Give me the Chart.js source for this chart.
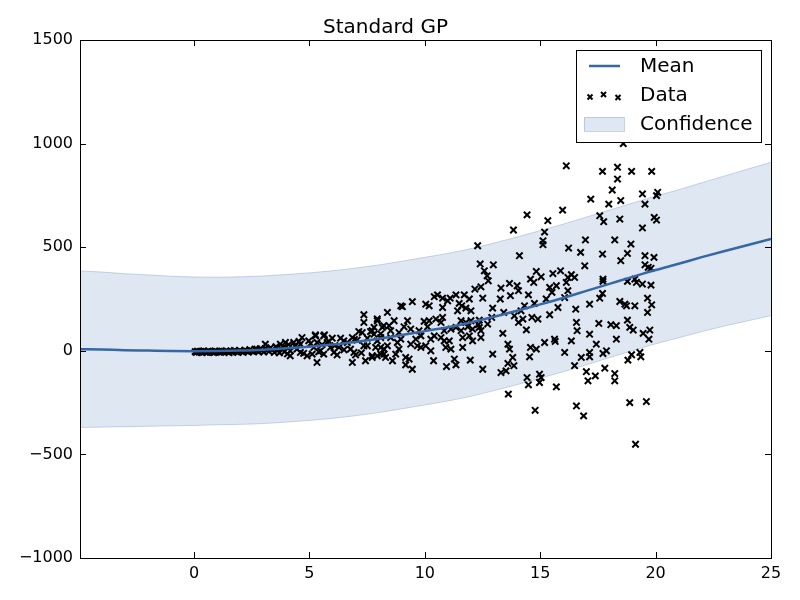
<!DOCTYPE html>
<html>
<head>
<meta charset="utf-8">
<script src="https://cdn.jsdelivr.net/npm/chart.js@4.4.1/dist/chart.umd.min.js"></script>
<style>
  html, body { margin: 0; padding: 0; background: #fff; }
  canvas { display: block; }
</style>
</head>
<body>
<canvas id="gpChart" width="800" height="600"></canvas>
<script>
// valores
const xGrid = [-5, -4, -3, -2, -1, 0, 1, 2, 3, 4, 5, 6, 7, 8, 9, 10, 11, 12, 13, 14, 15, 16, 17, 18, 19, 20, 21, 22, 23, 24, 25];
const meanVals = [8, 6, 3, 1, -1, -2, -1, 1, 5, 12, 20, 30, 43, 58, 76, 95, 114, 137, 164, 193, 224, 255, 289, 323, 357, 390, 420, 452, 482, 511, 540];
const upperVals = [386, 380, 372, 366, 360, 356, 355, 357, 361, 368, 376, 386, 399, 414, 432, 451, 470, 493, 520, 549, 580, 611, 645, 679, 713, 746, 777, 811, 844, 877, 910];
const lowerVals = [-370, -368, -366, -364, -362, -360, -357, -355, -351, -344, -336, -326, -313, -298, -280, -261, -242, -219, -192, -163, -132, -101, -67, -33, 1, 34, 63, 93, 120, 145, 170];

const xTickVals = [0, 5, 10, 15, 20, 25];
const yTickVals = [-1000, -500, 0, 500, 1000, 1500];

// observaciones [x, y]
const observed = [
  // banda densa cerca de cero
  [0.05,-4],[0.1,-8],[0.15,-2],[0.22,-6],[0.3,-3],[0.36,-9],[0.42,-1],[0.5,-5],[0.55,-7],[0.62,-2],
  [0.7,-6],[0.78,-4],[0.85,-9],[0.92,-1],[1.0,-5],[1.08,-3],[1.15,-8],[1.22,-2],[1.3,-6],[1.38,0],
  [1.45,-4],[1.52,-9],[1.6,-2],[1.68,-6],[1.75,2],[1.82,-4],[1.9,-8],[1.98,1],[2.05,-3],[2.12,-7],
  [2.2,3],[2.28,-2],[2.35,-6],[2.42,5],[2.5,-1],[2.58,-5],[2.65,8],[2.72,0],[2.8,-4],[2.88,10],
  [2.95,2],[3.02,-6],[3.1,12],[3.18,4],[3.25,-3],[3.32,15],[3.4,6],[3.48,-8],[3.55,20],[3.62,2],
  [3.7,-10],[3.78,10],[3.09,32],[2.72,8],
  // x entre 3.7 y 8
  [7.36,174],[7.36,137],[7.94,145],[8.38,185],[7.14,93],[7.65,93],[6.86,64],[6.35,61],[5.99,61],[5.62,72],
  [5.26,72],[4.68,64],[3.96,40],[4.32,40],[4.61,32],[4.97,48],[5.33,40],[5.77,40],[6.64,40],[7.07,52],
  [7.51,61],[8.09,64],[3.88,16],[4.46,8],[5.19,16],[5.48,0],[5.91,16],[6.28,16],[6.78,8],[7.36,24],
  [8.09,16],[8.23,-16],[7.94,-24],[4.9,-24],[5.33,-56],[6.86,-56],[7.43,-48],[7.72,-32],[5.62,-16],[6.06,-8],
  [6.93,-8],[4.17,0],[4.61,-8],[5.12,-16],[3.74,32],[8.16,113],[8.45,121],
  [3.92,-5],[4.05,-15],[4.1,30],[4.38,22],[4.55,45],[4.75,-12],[5.05,35],[5.4,-5],[5.55,30],[5.85,45],
  [6.1,25],[6.2,-20],[6.5,5],[6.95,55],[7.0,-20],[7.25,-10],
  [7.29,88],[7.72,97],[5.26,77],[5.65,77],[4.17,-24],[6.49,48],[7.51,24],
  // x entre 7.7 y 9
  [7.94,154],[8.22,121],[7.8,113],[8.67,145],[8.09,82],[8.52,64],[8.81,40],[8.38,24],[8.09,-16],[7.72,-24],
  [8.74,-16],[7.94,48],[8.23,8],[7.87,16],[8.52,97],[8.88,88],[7.8,80],[8.3,-32],[8.6,-48],[8.88,8],
  // x entre 9 y 16
  [13.84,583],[15.19,573],[15.12,531],[15.12,512],[15.33,628],[12.29,507],[14.1,459],[12.4,419],[12.97,415],[12.58,386],
  [12.7,362],[12.75,338],[12.43,309],[12.17,298],[12.51,254],[13.3,303],[13.67,325],[14.0,314],[14.06,290],[13.71,266],
  [13.27,250],[14.49,270],[14.58,346],[14.83,383],[15.04,357],[14.72,330],[15.55,373],[15.88,386],[15.7,314],[15.51,282],
  [15.26,250],[14.75,229],[14.32,217],[14.17,193],[14.64,161],[14.9,153],[15.41,174],[13.88,169],[14.06,137],[14.4,101],
  [13.38,84],[13.42,185],[12.94,206],[12.9,161],[12.72,129],[12.36,148],[12.36,113],[12.0,145],[11.78,137],[11.57,145],
  [12.0,193],[11.78,206],[11.42,193],[11.49,229],[11.93,250],[11.71,270],[11.6,217],[11.35,270],[11.1,254],[10.99,241],
  [10.77,209],[10.77,254],[10.55,270],[10.41,261],[10.19,217],[10.04,225],[9.46,237],[9.03,213],[10.77,161],[10.48,153],
  [10.7,137],[10.19,145],[9.97,142],[10.12,116],[9.25,145],[9.1,116],[9.39,105],[11.13,105],[11.35,113],[11.57,97],
  [12.07,105],[12.32,126],[12.43,97],[11.86,116],[10.41,72],[10.26,56],[9.83,72],[9.61,56],[9.68,24],[9.39,32],
  [8.96,56],[10.84,48],[11.06,48],[10.91,16],[11.13,8],[11.64,64],[11.93,72],[11.64,16],[12.07,48],[12.43,64],
  [12.94,-16],[13.6,32],[13.67,8],[13.81,-32],[13.6,-61],[13.86,-72],[13.3,-105],[13.52,-97],[14.58,16],[14.83,8],
  [14.54,-29],[15.19,40],[15.62,56],[12.51,-89],[11.97,-45],[11.28,-40],[11.35,-68],[10.94,-76],[10.38,-48],[9.17,-32],
  [9.32,-40],[9.17,-68],[9.46,-89],[15.04,-129],[14.97,-153],[14.49,-164],[15.7,-174],[13.62,-209],[14.78,-287],[8.96,217],
  [9.75,97],[10.04,24],[10.26,0],[10.7,64],[9.83,16],[10.84,97],[15.41,306],[15.77,209],[14.25,153],[14.43,656],
  [14.43,-129],[14.97,-113],[15.65,45],
  // x entre 16 y 17.2
  [16.13,893],[15.97,679],[16.96,535],[16.23,496],[16.75,475],[16.93,410],[16.2,354],[16.35,367],[16.49,354],[16.2,290],
  [16.54,201],[16.57,137],[16.6,97],[17.14,225],[17.14,80],[16.35,48],[16.06,-8],[16.57,-266],[16.88,-314],[17.0,-101],
  [17.07,-145],[16.78,-32],[16.49,-72],[17.14,-8],[17.19,732],[16.13,330],[16.06,257],
  // x entre 17.2 y 20
  [17.7,866],[18.35,886],[18.35,829],[18.96,866],[19.83,866],[18.12,776],[17.97,708],[18.49,725],[19.43,757],[20.09,765],
  [20.04,749],[19.54,708],[17.58,652],[17.75,623],[18.45,636],[19.94,644],[20.04,631],[19.43,593],[18.23,535],[18.93,515],
  [17.7,467],[18.78,470],[18.49,435],[19.54,459],[19.93,451],[19.54,415],[19.68,403],[19.8,398],[17.72,346],[17.72,335],
  [18.78,335],[19.1,346],[19.17,330],[19.43,322],[19.8,317],[17.7,277],[17.58,254],[19.65,254],[19.83,222],[19.65,185],
  [18.45,238],[18.67,225],[18.74,217],[19.1,217],[17.54,132],[18.06,126],[18.3,121],[18.78,148],[18.88,113],[19.03,100],
  [19.46,84],[19.75,100],[19.71,56],[18.3,56],[17.43,32],[17.87,0],[17.72,-13],[17.14,-29],[18.96,-19],[19.32,-8],
  [19.36,-29],[18.8,-45],[17.8,-84],[17.39,-121],[18.23,-110],[18.23,-145],[18.88,-250],[19.6,-245],[19.13,-451],[18.6,1000]
];

const FONT = 'DejaVu Sans';
const MEAN_COLOR = '#3767a6';
const BAND_FILL = 'rgba(176, 196, 222, 0.4)';
const BAND_EDGE = 'rgba(160, 182, 214, 0.6)';

function toXY(ys) {
  return xGrid.map((x, i) => ({ x: x, y: ys[i] }));
}

function fmtTick(v) {
  return v < 0 ? '\u2212' + Math.abs(v) : String(v);
}

function drawCross(ctx, x, y, h) {
  ctx.beginPath();
  ctx.moveTo(x - h, y - h); ctx.lineTo(x + h, y + h);
  ctx.moveTo(x + h, y - h); ctx.lineTo(x - h, y + h);
  ctx.stroke();
}

// marco, ticks hacia dentro y leyenda al estilo matplotlib
const marcoPlugin = {
  id: 'marco',
  afterDraw(chart) {
    const ctx = chart.ctx;
    const ca = chart.chartArea;
    const xs = chart.scales.x, ys = chart.scales.y;
    const left = Math.round(ca.left), right = Math.round(ca.right);
    const top = Math.round(ca.top), bottom = Math.round(ca.bottom);
    ctx.save();
    ctx.strokeStyle = '#000';
    ctx.lineWidth = 1;
    ctx.beginPath();
    xTickVals.forEach(v => {
      const px = Math.min(Math.round(xs.getPixelForValue(v)), right) + 0.5;
      ctx.moveTo(px, bottom); ctx.lineTo(px, bottom - 6);
      ctx.moveTo(px, top); ctx.lineTo(px, top + 6);
    });
    yTickVals.forEach(v => {
      const py = Math.min(Math.max(Math.round(ys.getPixelForValue(v)), top), bottom) + 0.5;
      ctx.moveTo(left, py); ctx.lineTo(left + 6, py);
      ctx.moveTo(right, py); ctx.lineTo(right - 6, py);
    });
    ctx.stroke();
    ctx.strokeRect(left + 0.5, top + 0.5, right - left, bottom - top);

    // leyenda
    const bx = 576.5, by = 50.5, bw = 185, bh = 92;
    ctx.fillStyle = '#fff';
    ctx.fillRect(bx, by, bw, bh);
    ctx.strokeRect(bx, by, bw, bh);

    ctx.strokeStyle = MEAN_COLOR;
    ctx.lineWidth = 2.5;
    ctx.beginPath();
    ctx.moveTo(589, 66); ctx.lineTo(620, 66);
    ctx.stroke();

    ctx.strokeStyle = '#000';
    ctx.lineWidth = 2;
    drawCross(ctx, 590, 97, 2.5);
    drawCross(ctx, 603.5, 94.5, 2.5);
    drawCross(ctx, 618, 97.5, 2.5);

    ctx.fillStyle = BAND_FILL;
    ctx.fillRect(584, 117, 40, 14);
    ctx.strokeStyle = BAND_EDGE;
    ctx.lineWidth = 1;
    ctx.strokeRect(584.5, 117.5, 40, 14);

    ctx.fillStyle = '#000';
    ctx.font = '20px "' + FONT + '"';
    ctx.textBaseline = 'middle';
    ctx.textAlign = 'left';
    ctx.fillText('Mean', 640, 67);
    ctx.fillText('Data', 640, 96);
    ctx.fillText('Confidence', 640, 125);
    ctx.restore();
  }
};

try {
  const ctx = document.getElementById('gpChart').getContext('2d');
  new Chart(ctx, {
    type: 'scatter',
    data: {
      datasets: [
        {
          label: 'Mean',
          data: toXY(meanVals),
          showLine: true,
          borderColor: MEAN_COLOR,
          borderWidth: 2.5,
          pointRadius: 0,
          cubicInterpolationMode: 'monotone',
          fill: false
        },
        {
          label: 'Data',
          data: observed.map(p => ({ x: p[0], y: p[1] })),
          pointStyle: 'crossRot',
          pointRadius: 4.5,
          borderColor: '#000',
          backgroundColor: '#000',
          borderWidth: 2
        },
        {
          label: 'Confidence',
          data: toXY(upperVals),
          showLine: true,
          borderColor: BAND_EDGE,
          borderWidth: 1,
          backgroundColor: BAND_FILL,
          pointRadius: 0,
          cubicInterpolationMode: 'monotone',
          fill: '+1'
        },
        {
          label: 'lower',
          data: toXY(lowerVals),
          showLine: true,
          borderColor: BAND_EDGE,
          borderWidth: 1,
          pointRadius: 0,
          cubicInterpolationMode: 'monotone',
          fill: false
        }
      ]
    },
    options: {
      responsive: false,
      animation: false,
      events: [],
      layout: { padding: { left: 0, right: 29, top: 0, bottom: 0 } },
      plugins: {
        legend: { display: false },
        tooltip: { enabled: false },
        title: {
          display: true,
          text: 'Standard GP',
          color: '#000',
          font: { family: FONT, size: 20, weight: 'normal' },
          padding: { top: 16, bottom: 0 }
        }
      },
      scales: {
        x: {
          type: 'linear',
          min: -4.94,
          max: 25,
          afterBuildTicks: s => { s.ticks = xTickVals.map(v => ({ value: v })); },
          afterFit: s => { s.height = 42; },
          grid: { display: false, drawTicks: false },
          border: { display: false },
          ticks: { color: '#000', font: { family: FONT, size: 16 }, padding: 6, maxRotation: 0, callback: fmtTick }
        },
        y: {
          type: 'linear',
          min: -1000,
          max: 1500,
          afterBuildTicks: s => { s.ticks = yTickVals.map(v => ({ value: v })); },
          afterFit: s => { s.width = 80; },
          grid: { display: false, drawTicks: false },
          border: { display: false },
          ticks: { color: '#000', font: { family: FONT, size: 16 }, padding: 7, callback: fmtTick }
        }
      }
    },
    plugins: [marcoPlugin]
  });
} catch (e) { console.error('Error en la grafica GP:', e); }
</script>
</body>
</html>
